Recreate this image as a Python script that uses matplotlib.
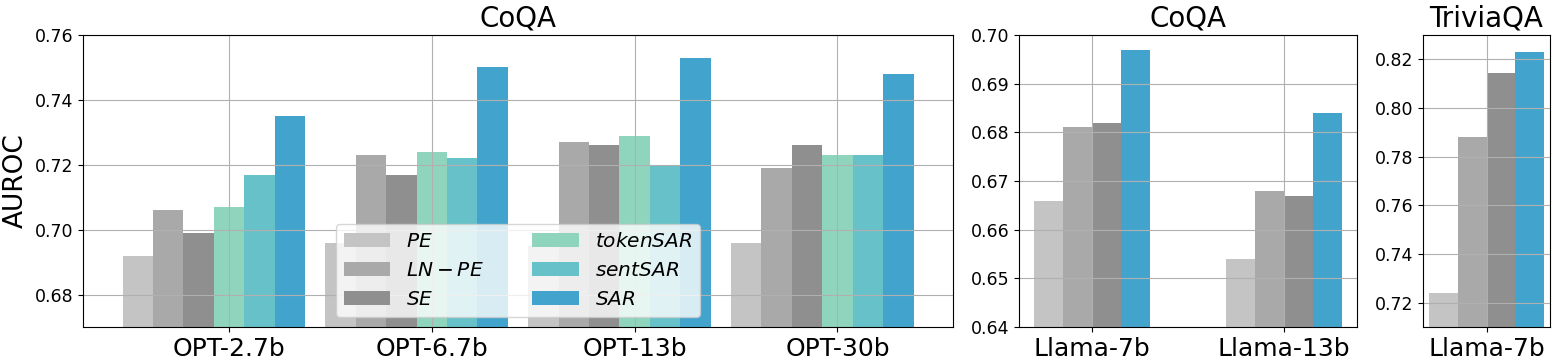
import matplotlib
matplotlib.use('Agg')
import matplotlib.pyplot as plt
import numpy as np

methods = ['$PE$', '$LN-PE$', '$SE$', '$tokenSAR$', '$sentSAR$', '$SAR$']
colors = ['#c4c4c4', '#a9a9a9', '#8f8f8f', '#8fd4bd', '#67c1c9', '#42a4cc']

opt_models = ['OPT-2.7b', 'OPT-6.7b', 'OPT-13b', 'OPT-30b']
opt_pe = [0.692, 0.696, 0.695, 0.696]
opt_lnpe = [0.706, 0.723, 0.727, 0.719]
opt_se = [0.699, 0.717, 0.726, 0.726]
opt_tokensar = [0.707, 0.724, 0.729, 0.723]
opt_sentsar = [0.717, 0.722, 0.720, 0.723]
opt_sar = [0.735, 0.750, 0.753, 0.748]

llama_models = ['Llama-7b', 'Llama-13b']
llama_pe = [0.666, 0.654]
llama_lnpe = [0.681, 0.668]
llama_se = [0.682, 0.667]
llama_sar = [0.697, 0.684]

trivia_models = ['Llama-7b']
trivia_pe = [0.724]
trivia_lnpe = [0.788]
trivia_se = [0.8145]
trivia_sar = [0.823]

w = 0.15
fig = plt.figure(figsize=(15.52, 3.61), dpi=100)
ax1 = fig.add_axes([0.0535, 0.094, 0.5606, 0.809])
ax2 = fig.add_axes([0.6566, 0.094, 0.2178, 0.809])
ax3 = fig.add_axes([0.9169, 0.094, 0.0818, 0.809])

# left panel: OPT models on CoQA
x = np.arange(len(opt_models))
opt_series = [opt_pe, opt_lnpe, opt_se, opt_tokensar, opt_sentsar, opt_sar]
for i, vals in enumerate(opt_series):
    ax1.bar(x + (i - 3) * w, vals, width=w, color=colors[i], label=methods[i])
ax1.set_ylim(0.67, 0.76)
ax1.set_yticks([0.68, 0.70, 0.72, 0.74, 0.76])
ax1.set_xticks(x)
ax1.set_xticklabels(opt_models, fontsize=18)
ax1.set_ylabel('AUROC', fontsize=19)
ax1.set_title('CoQA', fontsize=20)
ax1.grid(True)
ax1.legend(loc='lower center', ncol=2, fontsize=14.5, handlelength=2.3, columnspacing=2.4)

# middle panel: Llama models on CoQA
x = np.arange(len(llama_models))
llama_series = [llama_pe, llama_lnpe, llama_se, llama_sar]
llama_colors = [colors[0], colors[1], colors[2], colors[5]]
for i, vals in enumerate(llama_series):
    ax2.bar(x + (i - 1.5) * w, vals, width=w, color=llama_colors[i])
ax2.set_ylim(0.64, 0.70)
ax2.set_yticks([0.64, 0.65, 0.66, 0.67, 0.68, 0.69, 0.70])
ax2.set_xticks(x)
ax2.set_xticklabels(llama_models, fontsize=18)
ax2.set_title('CoQA', fontsize=20)
ax2.grid(True)

# right panel: TriviaQA
x = np.arange(len(trivia_models))
trivia_series = [trivia_pe, trivia_lnpe, trivia_se, trivia_sar]
for i, vals in enumerate(trivia_series):
    ax3.bar(x + (i - 1.5) * w, vals, width=w, color=llama_colors[i])
ax3.set_ylim(0.71, 0.83)
ax3.set_yticks([0.72, 0.74, 0.76, 0.78, 0.80, 0.82])
ax3.set_xticks(x)
ax3.set_xticklabels(trivia_models, fontsize=18)
ax3.set_title('TriviaQA', fontsize=20)
ax3.grid(True)

for ax in (ax1, ax2, ax3):
    ax.tick_params(axis='y', labelsize=12.5)

fig.savefig('out.png', dpi=100)
